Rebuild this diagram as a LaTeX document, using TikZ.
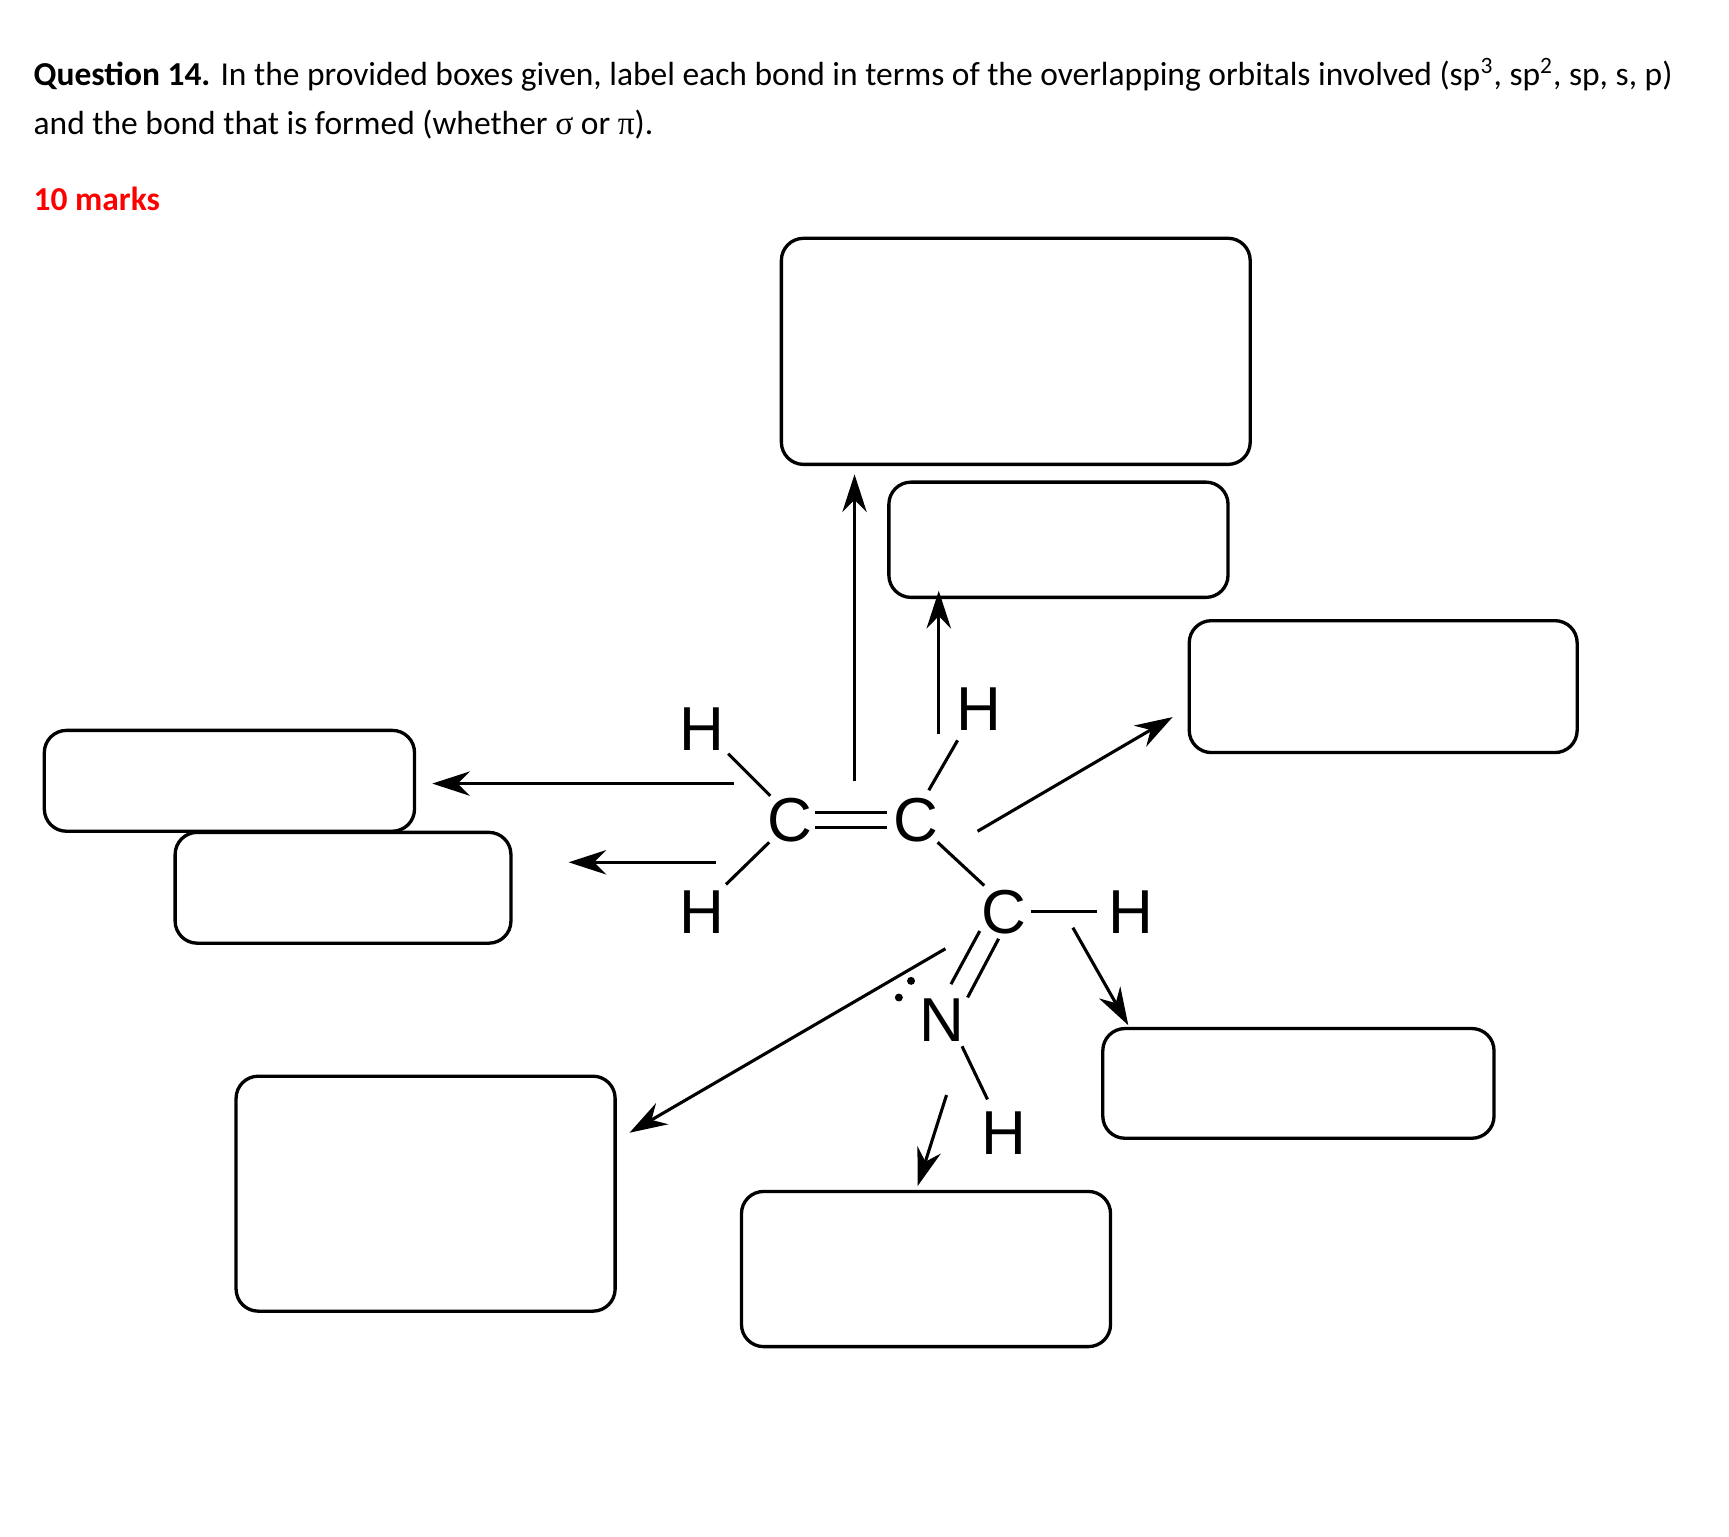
\documentclass[tikz,border=0pt]{standalone}
\usepackage{fontspec}
\setmainfont{Carlito}
\newfontfamily\atomfont{Liberation Sans}
\newfontfamily\grk{Liberation Serif}
\usetikzlibrary{arrows.meta}
\begin{document}
\begin{tikzpicture}[x=0.5pt,y=-0.5pt,
  box/.style={draw,line width=1.5pt,rounded corners=10pt},
  atom/.style={font=\atomfont\fontsize{28}{28}\selectfont,inner sep=0pt},
  bond/.style={line width=1.4pt},
  arr/.style={line width=1.4pt,-{Stealth[length=17pt,width=11pt]}}]
\useasboundingbox (0,0) rectangle (1560,1386);
\node[anchor=base west,inner sep=0pt,font=\fontsize{15.1}{18}\selectfont] (t1) at (30,77) {\textbf{Question 14.} In the provided boxes given, label each bond in terms of the overlapping orbitals involved (sp\textsuperscript{3}, sp\textsuperscript{2}, sp, s, p)};
\node[anchor=base west,inner sep=0pt,font=\fontsize{15.1}{18}\selectfont] (t2) at (30,121) {and the bond that is formed (whether {\grk σ} or {\grk π}).};
\node[anchor=base west,inner sep=0pt,font=\fontsize{15.1}{18}\selectfont\bfseries,text=red] (t3) at (30,190) {10 marks};
% boxes
\draw[box] (705,215) rectangle (1128,419);
\draw[box] (802,435) rectangle (1108,539);
\draw[box] (1073,560) rectangle (1423,679);
\draw[box] (40,659) rectangle (374,750);
\draw[box] (158,751) rectangle (461,851);
\draw[box] (213,971) rectangle (555,1183);
\draw[box] (995,928) rectangle (1348,1027);
\draw[box] (669,1075) rectangle (1002,1215);
% atoms
\node[atom] (c1) at (713,740) {C};
\node[atom] (c2) at (826,740) {C};
\node[atom] (c3) at (906,823) {C};
\node[atom] (h3) at (1020,823) {H};
\node[atom] (n) at (850,920) {N};
\node[atom] (hn) at (906,1022) {H};
\node[atom] (h1) at (633,658) {H};
\node[atom] (h2) at (633,823) {H};
\node[atom] (h4) at (883,640) {H};
\fill (822,885) circle (3.6) (811,900) circle (3.6);
% bonds
\draw[bond] (657,680) -- (695,718);
\draw[bond] (655,798) -- (694,760);
\draw[bond] (735,733) -- (800,733) (735,747) -- (800,747);
\draw[bond] (838,713) -- (864,668);
\draw[bond] (846,760) -- (888,799);
\draw[bond] (930,822) -- (990,822);
\draw[bond] (858,888) -- (884,840) (873,900) -- (901,847);
\draw[bond] (868,944) -- (891,992);
% arrows
\draw[arr] (771,705) -- (771,428);
\draw[arr] (847,662) -- (847,533);
\draw[arr] (882,750) -- (1058,647);
\draw[arr] (662,707) -- (390,707);
\draw[arr] (646,778) -- (513,778);
\draw[arr] (968,837) -- (1018,925);
\draw[arr] (853,856) -- (568,1022);
\draw[arr] (854,988) -- (828,1070);
\end{tikzpicture}
\end{document}
